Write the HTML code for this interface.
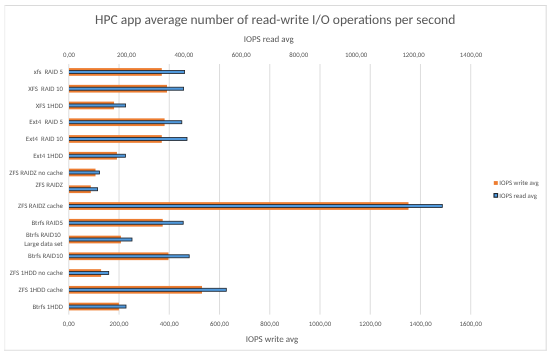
<!DOCTYPE html><html><head><meta charset="utf-8"><title>HPC app average number of read-write I/O operations per second</title><style>
html,body{margin:0;padding:0;background:#fff;}svg{display:block;}
text{text-rendering:geometricPrecision;font-family:Carlito, "Liberation Sans", sans-serif;fill:#595959;}
</style></head><body>
<svg width="550" height="356" viewBox="0 0 550 356">
<rect x="0" y="0" width="550" height="356" fill="#fff"/>
<defs><clipPath id="pc"><rect x="69.0" y="0" width="500" height="356"/></clipPath></defs>
<line x1="4.1" y1="5.5" x2="546.7" y2="5.5" stroke="#dadada" stroke-width="1.1"/>
<line x1="4.7" y1="5" x2="4.7" y2="350.8" stroke="#f0f0f0" stroke-width="1.1"/>
<line x1="546.2" y1="5" x2="546.2" y2="350.8" stroke="#dedede" stroke-width="1.1"/>
<line x1="4.1" y1="350.2" x2="546.7" y2="350.2" stroke="#dedede" stroke-width="1.1"/>
<text x="275.2" y="23.8" text-anchor="middle" font-size="13.54">HPC app average number of read-write I/O operations per second</text>
<text x="268.7" y="41.8" text-anchor="middle" font-size="9">IOPS read avg</text>
<text x="271.9" y="341.7" text-anchor="middle" font-size="9">IOPS write avg</text>
<line x1="68.80" y1="64.0" x2="68.80" y2="314.6" stroke="#d9d9d9" stroke-width="0.9"/>
<line x1="119.04" y1="64.0" x2="119.04" y2="314.6" stroke="#d9d9d9" stroke-width="0.9"/>
<line x1="169.28" y1="64.0" x2="169.28" y2="314.6" stroke="#d9d9d9" stroke-width="0.9"/>
<line x1="219.52" y1="64.0" x2="219.52" y2="314.6" stroke="#d9d9d9" stroke-width="0.9"/>
<line x1="269.76" y1="64.0" x2="269.76" y2="314.6" stroke="#d9d9d9" stroke-width="0.9"/>
<line x1="320.00" y1="64.0" x2="320.00" y2="314.6" stroke="#d9d9d9" stroke-width="0.9"/>
<line x1="370.24" y1="64.0" x2="370.24" y2="314.6" stroke="#d9d9d9" stroke-width="0.9"/>
<line x1="420.48" y1="64.0" x2="420.48" y2="314.6" stroke="#d9d9d9" stroke-width="0.9"/>
<line x1="470.72" y1="64.0" x2="470.72" y2="314.6" stroke="#d9d9d9" stroke-width="0.9"/>
<text x="69.00" y="57.3" text-anchor="middle" font-size="6.8">0,00</text>
<text x="126.43" y="57.3" text-anchor="middle" font-size="6.8">200,00</text>
<text x="183.86" y="57.3" text-anchor="middle" font-size="6.8">400,00</text>
<text x="241.29" y="57.3" text-anchor="middle" font-size="6.8">600,00</text>
<text x="298.72" y="57.3" text-anchor="middle" font-size="6.8">800,00</text>
<text x="356.15" y="57.3" text-anchor="middle" font-size="6.8">1000,00</text>
<text x="413.58" y="57.3" text-anchor="middle" font-size="6.8">1200,00</text>
<text x="471.01" y="57.3" text-anchor="middle" font-size="6.8">1400,00</text>
<text x="68.80" y="325.9" text-anchor="middle" font-size="6.8">0,00</text>
<text x="119.04" y="325.9" text-anchor="middle" font-size="6.8">200,00</text>
<text x="169.28" y="325.9" text-anchor="middle" font-size="6.8">400,00</text>
<text x="219.52" y="325.9" text-anchor="middle" font-size="6.8">600,00</text>
<text x="269.76" y="325.9" text-anchor="middle" font-size="6.8">800,00</text>
<text x="320.00" y="325.9" text-anchor="middle" font-size="6.8">1000,00</text>
<text x="370.24" y="325.9" text-anchor="middle" font-size="6.8">1200,00</text>
<text x="420.48" y="325.9" text-anchor="middle" font-size="6.8">1400,00</text>
<text x="470.72" y="325.9" text-anchor="middle" font-size="6.8">1600,00</text>
<rect x="69.0" y="68.10" width="92.80" height="7.7" fill="#ED7D31"/>
<rect x="67.00" y="70.45" width="117.60" height="3.00" fill="#5099DC" stroke="#1b1f26" stroke-width="0.8" clip-path="url(#pc)"/>
<text x="62.9" y="74.05" text-anchor="end" font-size="6.8" style="white-space:pre">xfs  RAID 5</text>
<rect x="69.0" y="84.86" width="98.00" height="7.7" fill="#ED7D31"/>
<rect x="67.00" y="87.21" width="116.60" height="3.00" fill="#5099DC" stroke="#1b1f26" stroke-width="0.8" clip-path="url(#pc)"/>
<text x="62.9" y="90.81" text-anchor="end" font-size="6.8" style="white-space:pre">XFS  RAID 10</text>
<rect x="69.0" y="101.61" width="45.05" height="7.7" fill="#ED7D31"/>
<rect x="67.00" y="103.96" width="58.60" height="3.00" fill="#5099DC" stroke="#1b1f26" stroke-width="0.8" clip-path="url(#pc)"/>
<text x="62.9" y="107.56" text-anchor="end" font-size="6.8" style="white-space:pre">XFS 1HDD</text>
<rect x="69.0" y="118.37" width="95.60" height="7.7" fill="#ED7D31"/>
<rect x="67.00" y="120.72" width="114.80" height="3.00" fill="#5099DC" stroke="#1b1f26" stroke-width="0.8" clip-path="url(#pc)"/>
<text x="62.9" y="124.32" text-anchor="end" font-size="6.8" style="white-space:pre">Ext4  RAID 5</text>
<rect x="69.0" y="135.13" width="92.80" height="7.7" fill="#ED7D31"/>
<rect x="67.00" y="137.48" width="120.00" height="3.00" fill="#5099DC" stroke="#1b1f26" stroke-width="0.8" clip-path="url(#pc)"/>
<text x="62.9" y="141.08" text-anchor="end" font-size="6.8" style="white-space:pre">Ext4  RAID 10</text>
<rect x="69.0" y="151.89" width="47.95" height="7.7" fill="#ED7D31"/>
<rect x="67.00" y="154.24" width="58.50" height="3.00" fill="#5099DC" stroke="#1b1f26" stroke-width="0.8" clip-path="url(#pc)"/>
<text x="62.9" y="157.84" text-anchor="end" font-size="6.8" style="white-space:pre">Ext4 1HDD</text>
<rect x="69.0" y="168.64" width="26.50" height="7.7" fill="#ED7D31"/>
<rect x="67.00" y="170.99" width="32.55" height="3.00" fill="#5099DC" stroke="#1b1f26" stroke-width="0.8" clip-path="url(#pc)"/>
<text x="62.9" y="174.59" text-anchor="end" font-size="6.8" style="white-space:pre">ZFS RAIDZ no cache</text>
<rect x="69.0" y="185.40" width="21.80" height="7.7" fill="#ED7D31"/>
<rect x="67.00" y="187.75" width="30.60" height="3.00" fill="#5099DC" stroke="#1b1f26" stroke-width="0.8" clip-path="url(#pc)"/>
<text x="62.9" y="187.15" text-anchor="end" font-size="6.8" style="white-space:pre">ZFS RAIDZ</text>
<rect x="69.0" y="202.16" width="339.50" height="7.7" fill="#ED7D31"/>
<rect x="67.00" y="204.51" width="375.30" height="3.00" fill="#5099DC" stroke="#1b1f26" stroke-width="0.8" clip-path="url(#pc)"/>
<text x="62.9" y="208.11" text-anchor="end" font-size="6.8" style="white-space:pre">ZFS RAIDZ cache</text>
<rect x="69.0" y="218.91" width="93.70" height="7.7" fill="#ED7D31"/>
<rect x="67.00" y="221.26" width="116.20" height="3.00" fill="#5099DC" stroke="#1b1f26" stroke-width="0.8" clip-path="url(#pc)"/>
<text x="62.9" y="224.86" text-anchor="end" font-size="6.8" style="white-space:pre">Btrfs RAID5</text>
<rect x="69.0" y="235.67" width="51.90" height="7.7" fill="#ED7D31"/>
<rect x="67.00" y="238.02" width="65.00" height="3.00" fill="#5099DC" stroke="#1b1f26" stroke-width="0.8" clip-path="url(#pc)"/>
<text x="43.4" y="237.42" text-anchor="middle" font-size="6.8" style="white-space:pre">Btrfs RAID10</text>
<text x="43.4" y="245.82" text-anchor="middle" font-size="6.8" style="white-space:pre">Large data set</text>
<rect x="69.0" y="252.43" width="99.50" height="7.7" fill="#ED7D31"/>
<rect x="67.00" y="254.78" width="122.20" height="3.00" fill="#5099DC" stroke="#1b1f26" stroke-width="0.8" clip-path="url(#pc)"/>
<text x="62.9" y="258.38" text-anchor="end" font-size="6.8" style="white-space:pre">Btrfs RAID10</text>
<rect x="69.0" y="269.18" width="32.10" height="7.7" fill="#ED7D31"/>
<rect x="67.00" y="271.53" width="41.70" height="3.00" fill="#5099DC" stroke="#1b1f26" stroke-width="0.8" clip-path="url(#pc)"/>
<text x="62.9" y="275.13" text-anchor="end" font-size="6.8" style="white-space:pre">ZFS 1HDD no cache</text>
<rect x="69.0" y="285.94" width="133.00" height="7.7" fill="#ED7D31"/>
<rect x="67.00" y="288.29" width="159.30" height="3.00" fill="#5099DC" stroke="#1b1f26" stroke-width="0.8" clip-path="url(#pc)"/>
<text x="62.9" y="291.89" text-anchor="end" font-size="6.8" style="white-space:pre">ZFS 1HDD cache</text>
<rect x="69.0" y="302.70" width="49.90" height="7.7" fill="#ED7D31"/>
<rect x="67.00" y="305.05" width="59.00" height="3.00" fill="#5099DC" stroke="#1b1f26" stroke-width="0.8" clip-path="url(#pc)"/>
<text x="62.9" y="308.65" text-anchor="end" font-size="6.8" style="white-space:pre">Btrfs 1HDD</text>
<rect x="493.8" y="181.1" width="4.0" height="3.8" fill="#ED7D31"/>
<rect x="494.0" y="193.6" width="3.6" height="3.6" fill="#4fa0ea" stroke="#1b1f26" stroke-width="1.1"/>
<text x="499.2" y="184.8" font-size="6.8">IOPS write avg</text>
<text x="499.2" y="197.6" font-size="6.8">IOPS read avg</text>
</svg></body></html>
